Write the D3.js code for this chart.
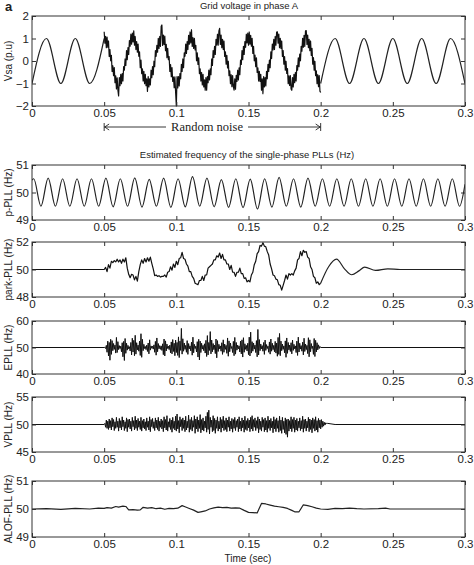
<!DOCTYPE html>
<html>
<head>
<meta charset="utf-8">
<script src="https://cdn.jsdelivr.net/npm/d3@7"></script>
<style>
  body { margin: 0; background: #fff; }
  text { font-family: "Liberation Sans", Arial, sans-serif; fill: #222; }
</style>
</head>
<body>
<svg id="chart" width="474" height="565"></svg>
<script>
// ---- data ----
const xTicks = [0, 0.05, 0.1, 0.15, 0.2, 0.25, 0.3];
const xTickLabels = ["0", "0.05", "0.1", "0.15", "0.2", "0.25", "0.3"];

const panelNames = ["Vsa (p.u)", "p-PLL (Hz)", "park-PLL (Hz)", "EPLL (Hz)", "VPLL (Hz)", "ALOF-PLL (Hz)"];
const yDomains = [[-2, 2], [49, 51], [48, 52], [40, 60], [45, 55], [49, 51]];
const yTicks = [[-2, -1, 0, 1, 2], [49, 50, 51], [48, 50, 52], [40, 50, 60], [45, 50, 55], [49, 50, 51]];

// grid voltage: clean peaks/troughs every 10 ms, noisy part sampled every 0.5 ms
const vsaCleanA = [-1, 1, -1, 1, -1, 1];                               // t = 0 .. 0.05
const vsaCleanB = [-1, 1, -1, 1, -1, 1, -1, 1, -1, 1, -1];             // t = 0.2 .. 0.3
const vsaNoise = [
  1.3, .79, 1.1, .59, 1.06, .61, .89, .2, .51, .01, .25, -.46, -.21, -.65, -.29, -.96, -.66, -1.24, -.75, -1.29,
  -1.55, -.74, -1.1, -.59, -1.01, -.56, -.89, -.25, -.41, .09, -.2, .46, .06, .6, .29, .91, .66, 1.19, .75, 1.24,
  .85, 1.34, .7, 1.09, .51, .86, .39, .75, .21, .41, -.3, .04, -.56, -.35, -.89, -.46, -1.01, -.59, -1.1, -.79,
  -1.35, -.69, -1.15, -.79, -1.06, -.41, -.74, -.25, -.61, -.01, -.25, .46, .21, .7, .39, 1.01, .56, 1.09, .65, 1.54,
  1.6, .69, 1.15, .74, 1.11, .46, .74, .15, .56, .06, .2, -.46, -.16, -.7, -.29, -.91, -.71, -1.19, -.7, -1.39,
  -2.0, -.69, -1.2, -.69, -1.11, -.56, -.79, -.15, -.46, .09, -.3, .36, .21, .75, .34, .86, .51, 1.14, .75, 1.29,
  .8, 1.39, .65, 1.04, .56, 1.01, .49, .7, .01, .36, -.15, .14, -.56, -.35, -.89, -.51, -1.06, -.59, -1.15, -.84,
  -1.3, -.74, -1.3, -.69, -.96, -.41, -.84, -.35, -.61, .09, -.2, .46, .16, .65, .29, .96, .71, 1.19, .7, 1.34,
  1.45, .74, 1.15, .59, .96, .51, .89, .2, .41, -.14, .25, -.31, -.01, -.65, -.44, -1.01, -.61, -1.14, -.65, -1.14,
  -1.3, -.79, -1.25, -.64, -.91, -.41, -.84, -.3, -.61, .04, -.15, .46, .06, .65, .29, .86, .61, 1.19, .8, 1.24,
  .7, 1.29, .75, 1.14, .66, 1.01, .34, .65, .01, .26, -.25, .14, -.51, -.3, -.89, -.46, -.91, -.59, -1.3, -.79,
  -1.45, -.69, -1.15, -.74, -1.11, -.46, -.79, -.15, -.46, .04, -.3, .41, .11, .75, .49, .96, .51, 1.09, .7, 1.29,
  1.3, .79, 1.2, .59, 1.01, .56, .89, .2, .46, -.14, .2, -.41, -.01, -.55, -.34, -1.01, -.66, -1.09, -.65, -1.24,
  -1.3, -.74, -1.15, -.59, -.96, -.51, -.89, -.2, -.41, .14, -.25, .31, .01, .65, .44, 1.01, .61, 1.14, .65, 1.34,
  1.35, .74, 1.15, .59, .96, .46, .89, .25, .56, -.14, .15, -.41, -.01, -.65, -.44, -1.01, -.61, -1.14, -.65, -1.34,
  -1.4
];

// p-PLL: peaks and troughs every 5 ms starting at 1.2 ms
const ppllStart = 50.45, ppllEnd = 50.3;
const ppllExtremes = [
  50.5, 49.5, 50.52, 49.5, 50.5, 49.5, 50.5, 49.5, 50.5, 49.5,
  50.52, 49.48, 50.5, 49.5, 50.53, 49.47, 50.48, 49.5, 50.52, 49.46,
  50.5, 49.48, 50.58, 49.5, 50.52, 49.48, 50.47, 49.46, 50.5, 49.45,
  50.49, 49.4, 50.5, 49.47, 50.55, 49.5, 50.5, 49.47, 50.52, 49.5,
  50.5, 49.5, 50.5, 49.5, 50.5, 49.5, 50.5, 49.5, 50.5, 49.5,
  50.5, 49.5, 50.5, 49.5, 50.5, 49.5, 50.5, 49.5, 50.5, 49.5
];

// park-PLL: 1 ms samples from 0.05 to 0.2, then damped tail
const parkNoise = [
  50.0, 50.15, 49.85, 50.35, 50.1, 50.6, 50.5, 50.65, 50.55, 50.75,
  50.55, 50.7, 50.45, 50.75, 50.55, 50.85, 50.1, 49.65, 49.4, 49.65,
  49.6, 49.25, 49.5, 49.15, 49.85, 50.35, 50.7, 50.45, 50.8, 50.55,
  50.85, 50.6, 50.9, 50.45, 50.05, 49.55, 49.6, 49.5, 49.55, 49.45,
  49.5, 49.5, 49.6, 49.45, 49.8, 49.85, 50.2, 49.95, 50.4, 50.15,
  50.6, 50.35, 50.8, 50.85, 51.25, 50.8, 50.75, 50.4, 50.25, 49.85,
  49.85, 49.5, 49.35, 49.0, 48.95, 48.9, 49.2, 49.2, 49.5, 49.2,
  49.6, 49.6, 50.1, 50.2, 50.3, 50.4, 50.7, 50.7, 51.0, 50.9,
  51.2, 50.8, 51.1, 50.7, 50.7, 50.4, 50.4, 50.0, 50.3, 49.8,
  49.8, 49.5, 49.8, 49.8, 50.1, 49.7, 49.7, 49.35, 49.4, 49.1,
  49.2, 49.1, 49.6, 49.8, 50.35, 50.6, 51.15, 51.3, 51.75, 51.7,
  51.95, 51.7, 51.65, 51.3, 51.05, 50.4, 50.05, 49.6, 49.55, 49.3,
  49.25, 48.9, 48.85, 48.5, 48.85, 49.2, 49.6, 49.3, 49.7, 49.6,
  49.7, 49.6, 49.9, 50.1, 50.7, 50.8, 51.3, 51.0, 51.4, 51.25,
  51.3, 50.9, 50.8, 50.2, 50.0, 49.5, 49.4, 49.0, 49.1, 48.9,
  49.0
];
const parkTailT = [0.2, 0.2055, 0.211, 0.2165, 0.2215, 0.2265, 0.2305, 0.238, 0.2465, 0.255, 0.3];
const parkTailV = [49.0, 50.2, 50.75, 50.05, 49.62, 49.9, 50.18, 49.93, 50.05, 50.0, 50.0];

// EPLL: 0.5 ms samples from 0.05 to 0.2
const epllNoise = [
  50, 50.1, 49.6, 50.8, 48.2, 52.4, 46.8, 51.9, 45.2, 53.1,
  47.4, 52.6, 48.8, 51.5, 49.3, 50.9, 47.9, 53.8, 48.1, 52.2,
  49.2, 50.7, 49.6, 50.5, 48.4, 51.8, 46.5, 52.3, 45.1, 53.4,
  47.8, 51.6, 49.0, 50.8, 49.5, 50.3, 48.7, 51.9, 47.2, 53.5,
  48.3, 52.7, 46.9, 54.6, 47.5, 51.8, 49.1, 50.9, 48.6, 52.4,
  47.0, 55.2, 46.3, 53.1, 48.8, 51.2, 49.6, 50.4, 49.2, 50.9,
  48.5, 51.7, 47.6, 52.9, 49.0, 50.6, 49.7, 50.5, 49.4, 51.0,
  48.2, 52.3, 47.1, 53.6, 48.4, 51.5, 49.5, 50.7, 49.3, 50.6,
  48.9, 51.4, 47.3, 53.2, 46.8, 52.5, 48.7, 51.3, 49.6, 50.5,
  49.2, 50.9, 48.0, 52.1, 47.6, 53.0, 48.5, 51.6, 46.9, 52.8,
  48.1, 51.9, 47.0, 54.0, 46.2, 52.4, 48.9, 57.2, 47.5, 53.3,
  48.6, 51.7, 49.3, 50.8, 48.2, 52.6, 47.4, 51.5, 49.5, 50.6,
  48.7, 52.0, 47.1, 53.9, 48.0, 51.2, 49.6, 50.5, 48.3, 52.2,
  46.4, 53.1, 45.3, 52.4, 48.1, 51.6, 49.4, 50.8, 48.8, 51.4,
  47.9, 52.7, 46.6, 54.5, 47.2, 51.9, 48.9, 56.0, 47.6, 52.8,
  48.4, 51.5, 49.2, 50.9, 47.7, 53.2, 46.1, 52.6, 48.5, 51.2,
  49.5, 50.6, 48.6, 51.8, 47.4, 52.9, 48.2, 51.3, 49.3, 50.8,
  47.8, 53.6, 46.7, 52.5, 48.4, 51.7, 49.6, 50.4, 48.1, 52.3,
  46.9, 53.8, 47.5, 51.9, 49.0, 50.9, 49.5, 50.6, 48.3, 52.4,
  47.6, 52.9, 46.4, 53.7, 48.2, 51.4, 49.3, 50.8, 48.7, 51.6,
  47.3, 53.9, 46.8, 55.8, 47.9, 52.2, 48.6, 51.7, 49.4, 50.9,
  48.1, 52.6, 46.5, 56.8, 47.2, 53.0, 48.8, 51.3, 49.5, 50.7,
  48.6, 51.9, 47.4, 52.8, 48.9, 51.1, 49.6, 50.5, 48.2, 52.1,
  47.5, 53.2, 48.6, 51.6, 49.2, 50.8, 48.4, 52.3, 47.9, 51.7,
  46.7, 53.8, 47.4, 55.3, 46.9, 52.4, 48.8, 51.3, 49.3, 50.6,
  48.0, 52.5, 46.3, 53.6, 47.8, 51.9, 49.1, 50.9, 48.5, 51.8,
  47.6, 52.8, 48.9, 51.2, 49.5, 50.6, 48.1, 52.4, 47.0, 53.9,
  48.3, 51.6, 49.4, 50.7, 48.6, 52.0, 47.2, 53.5, 48.5, 51.3,
  49.2, 50.8, 47.7, 53.7, 46.5, 52.9, 48.4, 51.5, 49.6, 50.5,
  47.4, 53.4, 46.6, 52.7, 48.3, 51.8, 49.1, 51.0, 49.6, 50.4,
  50.0
];

// VPLL: 0.5 ms samples from 0.05 to 0.205
const vpllNoise = [
  50.0, 50.2, 49.5, 50.8, 49.3, 50.6, 49.1, 51.0, 49.4, 50.7,
  49.0, 51.2, 49.6, 50.9, 48.9, 50.5, 49.3, 51.3, 49.5, 50.6,
  48.8, 51.1, 49.4, 50.7, 49.0, 51.4, 49.6, 50.8, 48.9, 50.5,
  49.3, 51.2, 48.7, 50.9, 49.5, 51.0, 49.2, 50.6, 48.8, 51.3,
  49.6, 50.7, 49.0, 51.5, 49.3, 50.8, 48.9, 51.1, 49.5, 50.6,
  49.1, 51.3, 48.8, 50.7, 49.4, 51.0, 49.2, 50.5, 48.9, 51.2,
  49.5, 50.6, 49.0, 51.4, 48.7, 50.9, 49.6, 51.1, 49.3, 50.5,
  48.9, 51.2, 49.4, 50.8, 49.1, 51.3, 48.8, 50.6, 49.5, 51.0,
  49.2, 50.7, 48.7, 51.4, 49.4, 50.9, 49.0, 51.6, 48.8, 50.5,
  49.5, 51.1, 49.1, 50.8, 48.6, 51.3, 49.3, 50.6, 49.0, 51.5,
  48.8, 51.9, 49.2, 50.7, 48.5, 51.4, 49.6, 50.9, 48.9, 51.2,
  49.3, 50.8, 48.7, 51.5, 49.0, 50.6, 49.4, 51.7, 48.6, 50.9,
  49.1, 51.3, 48.8, 50.7, 49.5, 51.6, 48.4, 51.0, 49.2, 51.4,
  48.7, 50.8, 49.3, 51.8, 48.5, 50.9, 49.0, 51.2, 48.8, 50.6,
  49.4, 51.5, 48.6, 52.2, 49.1, 52.6, 48.3, 51.3, 49.5, 50.8,
  48.7, 51.6, 48.9, 51.1, 48.4, 50.8, 49.3, 51.4, 48.8, 50.6,
  49.2, 51.3, 48.6, 50.9, 49.4, 51.5, 48.9, 50.7, 49.1, 51.2,
  48.7, 50.8, 49.5, 51.4, 48.8, 50.6, 49.2, 51.1, 48.6, 50.9,
  49.3, 51.3, 48.9, 50.7, 49.5, 51.0, 48.7, 51.4, 49.2, 50.6,
  48.8, 51.2, 49.4, 50.8, 48.6, 51.5, 49.1, 50.7, 48.9, 51.1,
  49.4, 50.8, 48.7, 51.3, 49.2, 51.6, 48.8, 50.9, 49.5, 51.2,
  48.9, 50.7, 49.3, 51.4, 48.5, 51.0, 49.1, 50.6, 48.8, 51.3,
  49.5, 50.9, 48.7, 51.2, 49.0, 50.7, 48.6, 51.5, 49.3, 50.8,
  48.9, 51.1, 49.4, 50.6, 48.5, 51.4, 49.2, 50.9, 48.7, 51.2,
  49.3, 50.7, 48.6, 51.5, 48.9, 50.8, 48.4, 51.3, 49.1, 50.6,
  48.5, 51.2, 48.2, 50.9, 47.7, 51.0, 48.8, 50.7, 49.2, 51.4,
  48.7, 50.9, 49.3, 51.3, 48.6, 50.8, 49.0, 51.1, 48.8, 50.6,
  49.4, 51.2, 48.9, 50.7, 49.2, 51.5, 48.6, 50.9, 49.3, 51.0,
  48.8, 50.6, 49.4, 51.3, 48.7, 51.0, 49.1, 50.8, 48.5, 51.2,
  49.3, 50.9, 48.8, 51.4, 49.0, 50.7, 48.6, 51.1, 49.4, 50.8,
  49.2, 50.9, 49.5, 50.6, 49.7, 50.4, 49.9, 50.3, 50.2, 50.2,
  50.2
];

// ALOF-PLL: small wander around 50 Hz
const alofT = [0, 0.01, 0.02, 0.03, 0.04, 0.046, 0.05, 0.052, 0.055, 0.058,
  0.06, 0.063, 0.065, 0.067, 0.07, 0.073, 0.075, 0.077, 0.08, 0.083,
  0.086, 0.089, 0.092, 0.095, 0.098, 0.101, 0.104, 0.106, 0.109, 0.112,
  0.115, 0.117, 0.12, 0.123, 0.126, 0.129, 0.132, 0.135, 0.138, 0.141,
  0.144, 0.147, 0.15, 0.153, 0.156, 0.159, 0.162, 0.165, 0.168, 0.171,
  0.174, 0.177, 0.18, 0.182, 0.185, 0.188, 0.191, 0.194, 0.197, 0.2,
  0.205, 0.21, 0.215, 0.22, 0.225, 0.23, 0.24, 0.245, 0.248, 0.25, 0.3];
const alofV = [50.0, 50.01, 49.99, 50.02, 50.0, 50.03, 50.02, 50.05, 50.03, 50.09,
  50.07, 50.1, 50.09, 49.97, 49.98, 49.96, 49.97, 50.06, 50.03, 50.05,
  50.01, 50.03, 49.99, 50.02, 50.01, 50.03, 50.12, 50.08, 50.02, 49.96,
  49.88, 49.9, 49.93, 50.0, 50.04, 50.07, 50.05, 50.06, 50.03, 50.04,
  50.03, 49.95, 49.88, 49.87, 49.86, 50.2, 50.18, 50.14, 50.1, 50.08,
  50.06, 50.02, 49.95, 49.9, 49.9, 50.15, 50.12, 50.08, 50.03, 50.0,
  49.99, 50.02, 50.01, 50.03, 50.01, 50.0, 50.01, 50.03, 50.0, 50.0, 50.0];

// ---- layout ----
const svg = d3.select("svg#chart");
svg.append("rect").attr("width", 474).attr("height", 565).attr("fill", "#fff");

const left = 32, right = 465;
const tops = [16, 165, 242, 321, 397, 481];
const bottoms = [106, 220, 297, 374, 452, 537];

const x = d3.scaleLinear().domain([0, 0.3]).range([left, right]);

// helper: samples with a fixed time step into [t, v] pairs
function sampled(values, t0, dt) {
  return values.map((v, i) => [t0 + i * dt, v]);
}

const series = [
  // each panel: list of segments
  [
    { pts: sampled(vsaCleanA, 0, 0.01), curve: d3.curveMonotoneX },
    { pts: sampled(vsaNoise, 0.05, 0.0005), curve: d3.curveLinear, dense: true, w: 1.2 },
    { pts: sampled(vsaCleanB, 0.2, 0.01), curve: d3.curveMonotoneX }
  ],
  [
    { pts: [[0, ppllStart]].concat(sampled(ppllExtremes, 0.0012, 0.005), [[0.3, ppllEnd]]), curve: d3.curveMonotoneX }
  ],
  [
    { pts: [[0, 50]].concat(sampled(parkNoise, 0.05, 0.001)), curve: d3.curveLinear, dense: true, w: 1.2 },
    { pts: parkTailT.map((t, i) => [t, parkTailV[i]]), curve: d3.curveMonotoneX }
  ],
  [
    { pts: [[0, 50]].concat(sampled(epllNoise, 0.05, 0.0005), [[0.3, 50]]), curve: d3.curveLinear, dense: true }
  ],
  [
    { pts: [[0, 50]].concat(sampled(vpllNoise, 0.05, 0.0005), [[0.21, 50], [0.3, 50]]), curve: d3.curveLinear, dense: true }
  ],
  [
    { pts: alofT.map((t, i) => [t, alofV[i]]), curve: d3.curveLinear }
  ]
];

panelNames.forEach((name, i) => {
  const top = tops[i], bottom = bottoms[i];
  const y = d3.scaleLinear().domain(yDomains[i]).range([bottom, top]);
  const g = svg.append("g");

  const clipId = "clip" + i;
  g.append("clipPath").attr("id", clipId)
    .append("rect").attr("x", left).attr("y", top - 1)
    .attr("width", right - left).attr("height", bottom - top + 2);

  // data lines
  const lines = g.append("g").attr("clip-path", `url(#${clipId})`);
  series[i].forEach(seg => {
    const line = d3.line().x(d => x(d[0])).y(d => y(d[1])).curve(seg.curve);
    lines.append("path")
      .attr("d", line(seg.pts))
      .attr("fill", "none")
      .attr("stroke", seg.dense ? "#111" : "#222")
      .attr("stroke-width", seg.w || (seg.dense ? 1 : 1.2))
      .attr("stroke-linejoin", "round");
  });

  // axes with inward ticks
  const xb = g.append("g").attr("transform", `translate(0,${bottom})`)
    .call(d3.axisBottom(x).tickValues(xTicks).tickFormat((d, k) => xTickLabels[k]).tickSize(-4).tickPadding(3));
  const xt = g.append("g").attr("transform", `translate(0,${top})`)
    .call(d3.axisTop(x).tickValues(xTicks).tickFormat("").tickSize(-4));
  const yl = g.append("g").attr("transform", `translate(${left},0)`)
    .call(d3.axisLeft(y).tickValues(yTicks[i]).tickFormat(d3.format("d")).tickSize(-4).tickPadding(3));
  const yr = g.append("g").attr("transform", `translate(${right},0)`)
    .call(d3.axisRight(y).tickValues(yTicks[i]).tickFormat("").tickSize(-4));

  [xb, xt, yl, yr].forEach(a => {
    a.select(".domain").remove();
    a.selectAll("line").attr("stroke", "#333");
    a.selectAll("text").style("font-family", "'Liberation Sans', Arial, sans-serif")
      .style("font-size", "11.5px").attr("fill", "#222");
  });

  // frame
  g.append("rect").attr("x", left).attr("y", top)
    .attr("width", right - left).attr("height", bottom - top)
    .attr("fill", "none").attr("stroke", "#333").attr("stroke-width", 1);

  // y label
  g.append("text")
    .attr("transform", `translate(12,${(top + bottom) / 2}) rotate(-90)`)
    .attr("text-anchor", "middle")
    .style("font-size", "10px")
    .text(name);
});

// titles and annotations
svg.append("text").attr("x", 5).attr("y", 11).style("font-size", "13px").style("font-weight", "bold").text("a");
svg.append("text").attr("x", 249).attr("y", 9).attr("text-anchor", "middle").style("font-size", "9.5px")
  .text("Grid voltage in phase A");
svg.append("text").attr("x", 247).attr("y", 158).attr("text-anchor", "middle").style("font-size", "9.5px")
  .text("Estimated frequency of the single-phase PLLs (Hz)");
svg.append("text").attr("x", 248).attr("y", 562).attr("text-anchor", "middle").style("font-size", "10px")
  .text("Time (sec)");

// random noise arrow
const ay = 127;
const ann = svg.append("g").attr("stroke", "#222").attr("fill", "none").attr("stroke-width", 0.9);
ann.append("line").attr("x1", x(0.05)).attr("x2", 166).attr("y1", ay).attr("y2", ay);
ann.append("line").attr("x1", 248).attr("x2", x(0.2)).attr("y1", ay).attr("y2", ay);
ann.append("line").attr("x1", x(0.05)).attr("x2", x(0.05)).attr("y1", ay - 4).attr("y2", ay + 4);
ann.append("line").attr("x1", x(0.2)).attr("x2", x(0.2)).attr("y1", ay - 4).attr("y2", ay + 4);
ann.append("path").attr("d", `M${x(0.05) + 5},${ay - 3}L${x(0.05) + 0.5},${ay}L${x(0.05) + 5},${ay + 3}`);
ann.append("path").attr("d", `M${x(0.2) - 5},${ay - 3}L${x(0.2) - 0.5},${ay}L${x(0.2) - 5},${ay + 3}`);
svg.append("text").attr("x", 207).attr("y", 131).attr("text-anchor", "middle")
  .style("font-family", "'Liberation Serif', 'Times New Roman', serif").style("font-size", "12.5px")
  .text("Random noise");
</script>
</body>
</html>
